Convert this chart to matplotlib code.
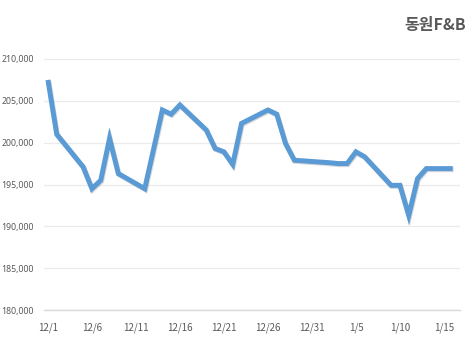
import numpy as np
import pandas as pd
import matplotlib
matplotlib.use("Agg")
import matplotlib.pyplot as plt
import matplotlib.patheffects as pe

# trading days (Dec 2016 - Jan 2017) and closing prices
dates = ["2016-12-01", "2016-12-02", "2016-12-05", "2016-12-06", "2016-12-07",
         "2016-12-08", "2016-12-09", "2016-12-12", "2016-12-13", "2016-12-14",
         "2016-12-15", "2016-12-16", "2016-12-19", "2016-12-20", "2016-12-21",
         "2016-12-22", "2016-12-23", "2016-12-26", "2016-12-27", "2016-12-28",
         "2016-12-29", "2017-01-02", "2017-01-03", "2017-01-04", "2017-01-05",
         "2017-01-06", "2017-01-09", "2017-01-10", "2017-01-11", "2017-01-12",
         "2017-01-13", "2017-01-16"]
prices = [207500, 201000, 197100, 194500, 195500,
          200500, 196300, 194500, 199200, 203900,
          203400, 204500, 201500, 199300, 198900,
          197400, 202300, 203900, 203400, 199900,
          197900, 197600, 197500, 197500, 198900,
          198300, 194900, 194900, 191300, 195700,
          196900, 196900]

tick_dates = ["2016-12-01", "2016-12-06", "2016-12-11", "2016-12-16", "2016-12-21",
              "2016-12-26", "2016-12-31", "2017-01-05", "2017-01-10", "2017-01-15"]
tick_labels = ["12/1", "12/6", "12/11", "12/16", "12/21",
               "12/26", "12/31", "1/5", "1/10", "1/15"]
y_ticks = [180000, 185000, 190000, 195000, 200000, 205000, 210000]
title = "동원F&B"

plt.rcParams['font.family'] = ['Noto Sans CJK KR', 'DejaVu Sans']

x = pd.to_datetime(dates)
xt = pd.to_datetime(tick_dates)

fig = plt.figure(figsize=(4.74, 3.39), dpi=100)
ax = fig.add_axes([0.0928, 0.0855, 0.970 - 0.0928, 0.826 - 0.0855])

ax.plot(x, prices, color="#5b9bd5", lw=3.6, solid_joinstyle="miter",
        solid_capstyle="butt",
        path_effects=[pe.SimpleLineShadow(offset=(0.6, -0.8), alpha=0.15),
                      pe.Normal()])

ax.set_ylim(180000, 210000)
ax.set_yticks(y_ticks)
ax.set_yticklabels([f"{v:,}" for v in y_ticks])
start = pd.Timestamp("2016-12-01")
ax.set_xlim(start - pd.Timedelta(days=0.45), start + pd.Timedelta(days=46.8))
ax.set_xticks(xt)
ax.set_xticklabels(tick_labels)

ax.grid(axis="y", color="#ebebeb", lw=0.9)
ax.set_axisbelow(True)
for s in ["top", "right", "left"]:
    ax.spines[s].set_visible(False)
ax.spines["bottom"].set_color("#d9d9d9")
ax.spines["bottom"].set_linewidth(1.0)
ax.tick_params(length=0, labelcolor="#595959")
ax.tick_params(axis="y", pad=7.2, labelsize=6.3)
ax.tick_params(axis="x", pad=9, labelsize=7)
for lab in ax.get_yticklabels():
    lab.set_family(["Noto Sans", "DejaVu Sans"])

fig.text(0.983, 0.925, title, ha="right", va="center", fontsize=11.5,
         fontweight="bold", color="#595959")

fig.savefig("out.png", dpi=100, facecolor="white")
